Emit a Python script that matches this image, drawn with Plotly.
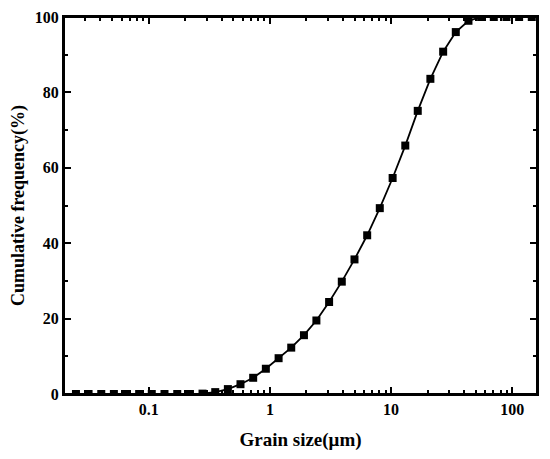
import numpy as np
import plotly.graph_objects as go

# grain size classes (µm) and cumulative frequency (%)
grain_size = [0.0251, 0.0319, 0.0406, 0.0516, 0.0656, 0.0834, 0.106, 0.135, 0.172,
              0.219, 0.278, 0.354, 0.450, 0.572, 0.728, 0.926, 1.18, 1.50, 1.91,
              2.42, 3.08, 3.92, 4.99, 6.35, 8.07, 10.3, 13.1, 16.6, 21.1, 26.9,
              34.2, 43.5, 55.3, 70.4, 89.5, 113.9, 144.9]
cumulative = [0, 0, 0, 0, 0, 0, 0, 0, 0,
              0, 0.1, 0.5, 1.3, 2.6, 4.3, 6.7, 9.5, 12.3, 15.6,
              19.5, 24.4, 29.8, 35.7, 42.1, 49.3, 57.3, 65.9, 75.1, 83.6, 90.8,
              96.0, 99.0, 100, 100, 100, 100, 100]

x_ticks = [0.1, 1, 10, 100]
x_ticktext = ["0.1", "1", "10", "100"]
y_ticks = [0, 20, 40, 60, 80, 100]
# minor tick positions on the log axis (2..9 of each decade)
x_minor = [m * d for d in (0.01, 0.1, 1, 10, 100) for m in range(2, 10)]
y_minor = [10, 30, 50, 70, 90]

font_family = "Liberation Serif"

fig = go.Figure()
fig.add_trace(go.Scatter(
    x=grain_size, y=cumulative, mode="lines+markers",
    line=dict(color="black", width=1.8),
    marker=dict(symbol="square", size=8, color="black"),
    showlegend=False,
))

axis_style = dict(
    showline=True, linecolor="black", linewidth=2, mirror="allticks",
    ticks="inside", ticklen=7, tickwidth=2, tickcolor="black",
    showgrid=False, zeroline=False, automargin=False,
    tickfont=dict(family=font_family, size=16, color="black", weight="bold"),
)

fig.update_xaxes(
    type="log", range=[np.log10(0.02), np.log10(160)],
    tickmode="array", tickvals=x_ticks, ticktext=x_ticktext,
    minor=dict(ticks="inside", ticklen=4, tickwidth=1.5, tickcolor="black",
               tickmode="array", tickvals=x_minor, showgrid=False),
    title=dict(text="Grain size(μm)",
               font=dict(family=font_family, size=19, color="black", weight="bold")),
    **axis_style,
)
fig.update_yaxes(
    range=[0, 100], tickmode="array", tickvals=y_ticks,
    minor=dict(ticks="inside", ticklen=4, tickwidth=1.5, tickcolor="black",
               tickmode="array", tickvals=y_minor, showgrid=False),
    title=dict(text="Cumulative frequency(%)",
               font=dict(family=font_family, size=18, color="black", weight="bold")),
    **axis_style,
)

fig.update_layout(
    width=534, height=443,
    margin=dict(l=56, r=5, t=9, b=57),
    plot_bgcolor="white", paper_bgcolor="white",
    # frame drawn as a shape as well, in case the axis lines are not painted
    shapes=[dict(type="rect", xref="paper", yref="paper", x0=0, y0=0, x1=1, y1=1,
                 line=dict(color="black", width=2), layer="above")],
)

fig.write_html("out.html")
